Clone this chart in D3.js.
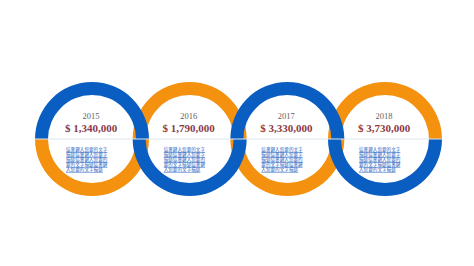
<!DOCTYPE html>
<html>
<head>
<meta charset="utf-8">
<title>Timeline rings</title>
<script src="https://cdn.jsdelivr.net/npm/d3@7"></script>
<style>
  body { margin: 0; background: #fff; }
  svg { display: block; }
</style>
</head>
<body>
<script>
// chart values
var years = ["2015", "2016", "2017", "2018"];
var amounts = [1340000, 1790000, 3330000, 3730000];
var topColors = ["blue", "orange", "blue", "orange"];   // colour of the upper half of each ring
var descLines = ["這裏鍵入您要的文字", "描述這裏鍵入您要字", "描述這裏鍵入您要的", "要的文字描述這裏鍵", "入您要的文字描述"];

var w = 474, h = 266;
var cy = 139, R = 57, thick = 13;
var palette = { blue: "#0a5ec2", orange: "#f4910f" };

var svg = d3.select("body").append("svg")
    .attr("width", w)
    .attr("height", h);

var x = d3.scalePoint()
    .domain(years)
    .range([92, 385]);

var arc = d3.arc()
    .innerRadius(R - thick)
    .outerRadius(R);

// one half-ring per year and side
var halves = [];
years.forEach(function (y, i) {
    var top = topColors[i];
    var bottom = top == "blue" ? "orange" : "blue";
    halves.push({ year: y, color: top, start: -Math.PI / 2, end: Math.PI / 2 });
    halves.push({ year: y, color: bottom, start: Math.PI / 2, end: Math.PI * 1.5 });
});
// orange first so blue sits on top where rings overlap
halves.sort(function (a, b) { return (a.color == "blue") - (b.color == "blue"); });

svg.selectAll("path.half").data(halves).enter().append("path")
    .attr("class", "half")
    .attr("transform", function (d) { return "translate(" + x(d.year) + "," + cy + ")"; })
    .attr("d", function (d) { return arc({ startAngle: d.start, endAngle: d.end }); })
    .attr("fill", function (d) { return palette[d.color]; });

// thin light divider between halves
svg.append("line")
    .attr("x1", x(years[0]) - R)
    .attr("x2", x(years[years.length - 1]) + R)
    .attr("y1", cy).attr("y2", cy)
    .attr("stroke", "#dbe5ef")
    .attr("stroke-width", 1);

var fmt = d3.format(",");

var g = svg.selectAll("g.item").data(years).enter().append("g")
    .attr("class", "item")
    .attr("transform", function (d) { return "translate(" + x(d) + ",0)"; });

g.append("text")
    .attr("x", -1)
    .attr("y", cy - 20)
    .attr("text-anchor", "middle")
    .attr("font-family", "Liberation Serif, DejaVu Serif, serif")
    .attr("font-size", "8.5px")
    .attr("fill", "#5f5f5f")
    .text(function (d) { return d; });

g.append("text")
    .attr("x", -1)
    .attr("y", cy - 7.5)
    .attr("text-anchor", "middle")
    .attr("font-family", "Liberation Serif, DejaVu Serif, serif")
    .attr("font-size", "11px")
    .attr("font-weight", "bold")
    .attr("fill", "#8b3a48")
    .text(function (d, i) { return "$ " + fmt(amounts[i]); });

g.each(function () {
    var t = d3.select(this).append("text")
        .attr("font-family", "Noto Sans CJK TC, sans-serif")
        .attr("font-size", "4.6px")
        .attr("fill", "#1f5fbf")
        .attr("text-decoration", "underline");
    descLines.forEach(function (line, k) {
        t.append("tspan")
            .attr("x", -26)
            .attr("y", cy + 12 + k * 5)
            .text(line);
    });
});
</script>
</body>
</html>
